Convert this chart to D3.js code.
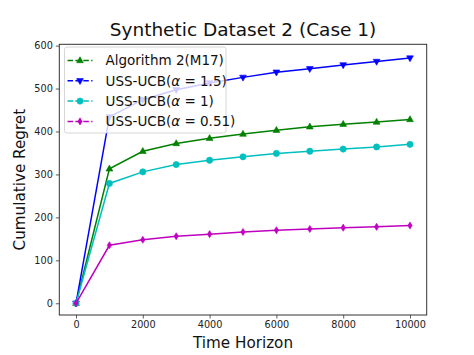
<!DOCTYPE html>
<html><head><meta charset="utf-8">
<script src="https://cdn.jsdelivr.net/npm/d3@7"></script>
<style>
html,body{margin:0;padding:0;background:#fff;}
svg{display:block;font-family:"DejaVu Sans",sans-serif;}
</style></head>
<body><svg id="c" width="474" height="355"></svg>
<script>
const timeSteps = [0,1000,2000,3000,4000,5000,6000,7000,8000,9000,10000];
const algM17    = [0,313,354,372,384,394,403,411,417,422,428];
const uss15     = [0,434,474,497,513,526,538,546,555,563,571];
const uss1      = [0,279,306,323,333,341,349,354,359,364,370];
const uss051    = [0,135,148,156,161,166,170,173,176,178,181];
const seriesNames = ["Algorithm 2(M17)","USS-UCB(α = 1.5)","USS-UCB(α = 1)","USS-UCB(α = 0.51)"];
const xTicks = [0,2000,4000,6000,8000,10000];
const yTicks = [0,100,200,300,400,500,600];
const titleText = "Synthetic Dataset 2 (Case 1)";
const xLabel = "Time Horizon";
const yLabel = "Cumulative Regret";

const series = [
  {name:seriesNames[0], values:algM17, color:"#008000", marker:"tri-up"},
  {name:seriesNames[1], values:uss15,  color:"#0000ff", marker:"tri-down"},
  {name:seriesNames[2], values:uss1,   color:"#00bfbf", marker:"circle"},
  {name:seriesNames[3], values:uss051, color:"#bf00bf", marker:"diamond"}
];

const L=59.3, R=426.7, T=44.3, B=315;
const svg = d3.select("#c");
const x = d3.scaleLinear().domain([-500,10500]).range([L,R]);
const y = d3.scaleLinear().domain([-27.3,603]).range([B,T]);

function markerPath(type, s){
  if(type==="tri-up") return `M0,${-s*1.1}L${s},${s*0.65}L${-s},${s*0.65}Z`;
  if(type==="tri-down") return `M0,${s*1.1}L${s},${-s*0.65}L${-s},${-s*0.65}Z`;
  if(type==="diamond") return `M0,${-s*1.05}L${s*0.65},0L0,${s*1.05}L${-s*0.65},0Z`;
  return d3.symbol(d3.symbolCircle, Math.PI*s*s*0.85)();
}

// axes
const gx = svg.append("g").attr("transform",`translate(0,${B})`)
  .call(d3.axisBottom(x).tickValues(xTicks).tickSize(3.5).tickPadding(3).tickFormat(d3.format("d")));
const gy = svg.append("g").attr("transform",`translate(${L},0)`)
  .call(d3.axisLeft(y).tickValues(yTicks).tickSize(3.5).tickPadding(3).tickFormat(d3.format("d")));
[gx,gy].forEach(g=>{
  g.select(".domain").remove();
  g.selectAll("line").attr("stroke","#333").attr("stroke-width",0.8);
  g.selectAll("text").attr("font-size","9.7px").attr("fill","#222").attr("font-family","DejaVu Sans");
});

// lines
const line = d3.line().x((d,i)=>x(timeSteps[i])).y(d=>y(d));
const plot = svg.append("g");
series.forEach(s=>{
  const g = plot.append("g");
  g.append("path").datum(s.values).attr("d",line).attr("fill","none")
    .attr("stroke",s.color).attr("stroke-width",1.5);
  g.selectAll("path.m").data(s.values).enter().append("path").attr("class","m")
    .attr("d",markerPath(s.marker,3.4))
    .attr("transform",(d,i)=>`translate(${x(timeSteps[i])},${y(d)})`)
    .attr("fill",s.color).attr("stroke",s.color).attr("stroke-width",0.6);
});

// frame
svg.append("rect").attr("x",L).attr("y",T).attr("width",R-L).attr("height",B-T)
  .attr("fill","none").attr("stroke","#333").attr("stroke-width",1);

// legend
const lg = svg.append("g");
lg.append("rect").attr("x",64.5).attr("y",47).attr("width",161.5).attr("height",86)
  .attr("rx",2.5).attr("fill","#fff").attr("fill-opacity",0.8).attr("stroke","#ccc").attr("stroke-width",0.8);
series.forEach((s,i)=>{
  const cy = 60.5 + i*20.3;
  lg.append("line").attr("x1",67.5).attr("x2",92.5).attr("y1",cy).attr("y2",cy)
    .attr("stroke",s.color).attr("stroke-width",1.5).attr("stroke-dasharray","5.5,2.4");
  lg.append("path").attr("d",markerPath(s.marker,3.4)).attr("transform",`translate(80,${cy})`)
    .attr("fill",s.color).attr("stroke",s.color).attr("stroke-width",0.6);
  const t = lg.append("text").attr("x",105.5).attr("y",cy).attr("dy","0.36em")
    .attr("font-size","13.5px").attr("fill","#111");
  if(s.name.indexOf("α")>=0){
    const parts = s.name.split("α");
    t.append("tspan").text(parts[0]);
    t.append("tspan").attr("font-style","italic").text("α");
    t.append("tspan").text(parts[1]);
  } else t.text(s.name);
});

// title & labels
svg.append("text").attr("x",(L+R)/2).attr("y",36).attr("text-anchor","middle")
  .attr("font-size","18.5px").attr("fill","#111").text(titleText);
svg.append("text").attr("x",(L+R)/2).attr("y",348).attr("text-anchor","middle")
  .attr("font-size","15.2px").attr("fill","#111").text(xLabel);
svg.append("text").attr("transform",`translate(25,${(T+B)/2}) rotate(-90)`).attr("text-anchor","middle")
  .attr("font-size","15.2px").attr("fill","#111").text(yLabel);
</script></body></html>
